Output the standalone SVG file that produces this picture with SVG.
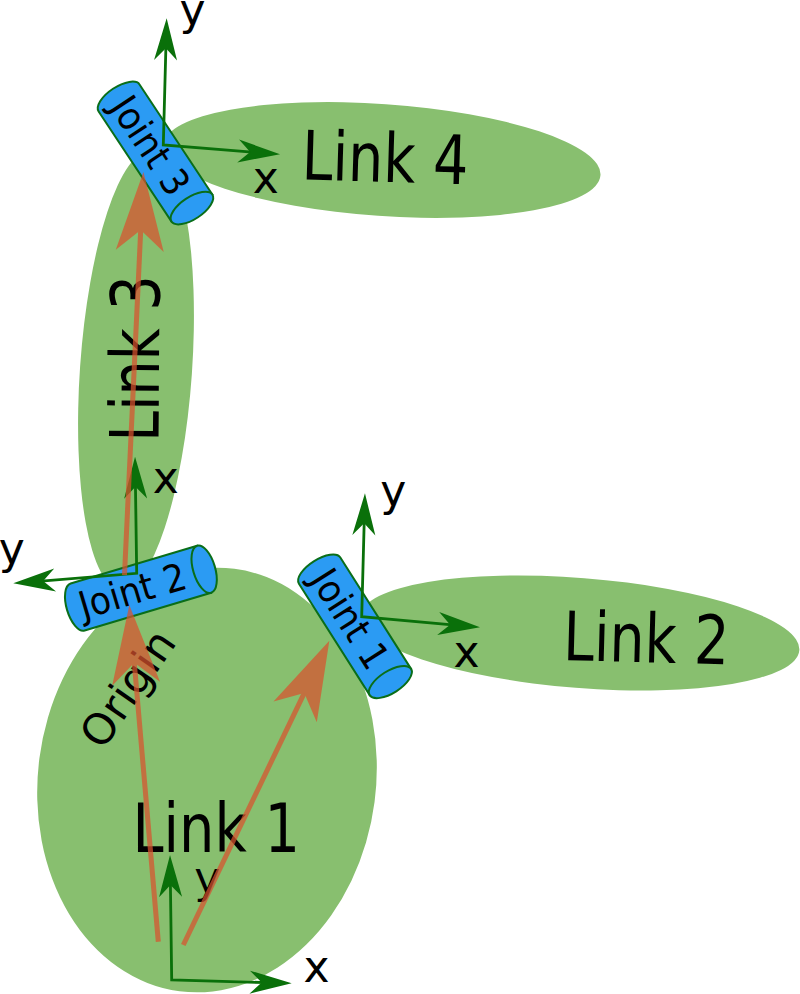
<svg xmlns="http://www.w3.org/2000/svg" width="800" height="994" viewBox="0 0 800 994">
  <style>
    .link { fill: #88bf6f; }
    .lbl { font-family: "DejaVu Sans", sans-serif; font-size: 68px; fill: #000; }
    .jbody { fill: #2b9bf3; stroke: #0a6e19; stroke-width: 2; }
    .jtxt { font-family: "DejaVu Sans", sans-serif; font-size: 38px; fill: #000; text-anchor: middle; }
    .ax { fill: none; stroke: #0a700a; stroke-width: 2.8; marker-start: url(#ga); marker-end: url(#ga); }
    .axl { font-family: "DejaVu Sans", sans-serif; font-size: 44px; fill: #000; text-anchor: middle; }
    .vec { fill: none; stroke: #d9532e; stroke-width: 5; marker-end: url(#ra); }
  </style>
  <defs>
    <marker id="ga" markerUnits="userSpaceOnUse" viewBox="-45 -15 50 30" markerWidth="50" markerHeight="30" refX="-25" refY="0" orient="auto-start-reverse">
      <path d="M0,0 L-42,-11.5 L-30,0 L-42,11.5 Z" fill="#0a700a"/>
    </marker>
    <marker id="ra" markerUnits="userSpaceOnUse" viewBox="-85 -30 90 60" markerWidth="90" markerHeight="60" refX="-50" refY="0" orient="auto">
      <path d="M0,0 L-79,-24 L-58,0 L-79,24 Z" fill="#d9532e"/>
    </marker>
  </defs>

  <g id="link1">
    <ellipse class="link" cx="207" cy="780" rx="169" ry="213" transform="rotate(7.4 207 780)"/>
    <text class="lbl" x="132.5" y="852" textLength="167.5" lengthAdjust="spacingAndGlyphs">Link 1</text>
  </g>
  <g id="link2">
    <ellipse class="link" cx="580" cy="633" rx="220" ry="55" transform="rotate(4.5 580 633)"/>
    <text class="lbl" x="562.8" y="660" textLength="166" lengthAdjust="spacingAndGlyphs" transform="rotate(1.5 562.8 660)">Link 2</text>
  </g>
  <g id="link3">
    <ellipse class="link" cx="136" cy="370" rx="56" ry="220" transform="rotate(4 136 370)"/>
    <text class="lbl" x="158.4" y="442" textLength="166.5" lengthAdjust="spacingAndGlyphs" transform="rotate(-89.5 158.4 442)">Link 3</text>
  </g>
  <g id="link4">
    <ellipse class="link" cx="382" cy="160" rx="219" ry="56" transform="rotate(4 382 160)"/>
    <text class="lbl" x="301.2" y="179.3" textLength="166.6" lengthAdjust="spacingAndGlyphs" transform="rotate(1.7 301.2 179.3)">Link 4</text>
  </g>

  <g id="origin-label">
    <text class="axl" style="font-size:43px" x="140" y="697" textLength="132" lengthAdjust="spacing" transform="rotate(-55.3 140 697)">Origin</text>
  </g>

  <g id="joint3" transform="translate(155.5 153) rotate(56.5)">
    <path class="jbody" d="M66,-24.5 L-66,-24.5 A11,24.5 0 0 0 -66,24.5 L66,24.5 Z"/>
    <ellipse class="jbody" cx="66" cy="0" rx="11" ry="24.5"/>
    <text class="jtxt" x="-9" y="13.5" textLength="110" lengthAdjust="spacingAndGlyphs">Joint 3</text>
  </g>
  <g id="joint2" transform="translate(140.9 588.1) rotate(-16.6)">
    <path class="jbody" d="M66,-24.5 L-66,-24.5 A11,24.5 0 0 0 -66,24.5 L66,24.5 Z"/>
    <ellipse class="jbody" cx="66" cy="0" rx="11" ry="24.5"/>
    <text class="jtxt" x="-9" y="13.5" textLength="110" lengthAdjust="spacingAndGlyphs">Joint 2</text>
  </g>
  <g id="joint1" transform="translate(355 626.3) rotate(57.6)">
    <path class="jbody" d="M66,-24.5 L-66,-24.5 A11,24.5 0 0 0 -66,24.5 L66,24.5 Z"/>
    <ellipse class="jbody" cx="66" cy="0" rx="11" ry="24.5"/>
    <text class="jtxt" x="-9" y="13.5" textLength="110" lengthAdjust="spacingAndGlyphs">Joint 1</text>
  </g>

  <g id="frames">
    <path class="ax" d="M166,43.3 L163.3,145 L255.1,152.3"/>
    <path class="ax" d="M135.4,481.7 L136.7,573.3 L38.2,581.3"/>
    <path class="ax" d="M364.3,518.3 L361.7,616.7 L455.1,625.1"/>
    <path class="ax" d="M170.35,880 L171.7,980 L266.7,982.6"/>
    <text class="axl" x="192.5" y="25">y</text>
    <text class="axl" x="265.8" y="193.3">x</text>
    <text class="axl" x="165.8" y="493.3">x</text>
    <text class="axl" x="11.7" y="564.1">y</text>
    <text class="axl" x="393.3" y="505.8">y</text>
    <text class="axl" x="466.5" y="666.7">x</text>
    <text class="axl" x="207.3" y="892.8">y</text>
    <text class="axl" x="316.5" y="981.7">x</text>
  </g>

  <g id="connectors" opacity="0.72">
    <path class="vec" d="M158.3,941.7 L133.6,654.8"/>
    <path class="vec" d="M124.5,575 L141.1,221.9"/>
    <path class="vec" d="M183.3,945 L307.7,685.8"/>
  </g>
</svg>
